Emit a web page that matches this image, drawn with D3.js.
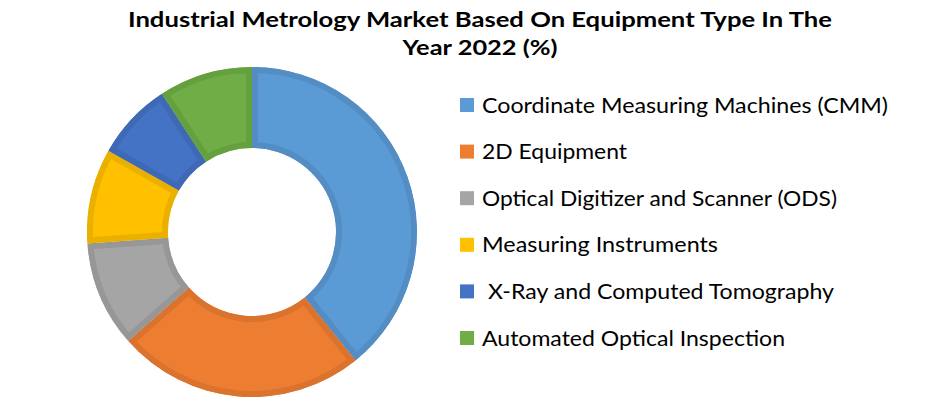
<!DOCTYPE html>
<html><head><meta charset="utf-8">
<script src="https://cdn.jsdelivr.net/npm/d3@7"></script>
<style>body{margin:0;background:#fff}svg{display:block}</style>
</head><body>
<script>
const categories = ["Coordinate Measuring Machines (CMM)","2D Equipment","Optical Digitizer and Scanner (ODS)","Measuring Instruments"," X-Ray and Computed Tomography","Automated Optical Inspection"];
const values = [39.2, 24.3, 10.4, 9.3, 7.6, 9.2];
const fills = ["#5B9BD5","#ED7D31","#A5A5A5","#FFC000","#4472C4","#70AD47"];
const strokes = ["#538DC3","#D9732E","#979797","#E9B000","#3F69B4","#65A03F"];
const titleLines = ["Industrial Metrology Market Based On Equipment Type In The","Year 2022 (%)"];

const W=933,H=411;
const svg=d3.select("body").append("svg").attr("width",W).attr("height",H);

const cx=252, cy=232, rO=165, rI=84;
const pie=d3.pie().sort(null).value(d=>d)(values);
const arc=d3.arc().innerRadius(rI).outerRadius(rO);
const defs=svg.append("defs");
defs.selectAll("clipPath").data(pie).join("clipPath")
  .attr("id",(d,i)=>"clip"+i)
  .append("path").attr("d",arc);
const g=svg.append("g").attr("transform",`translate(${cx},${cy})`);
g.selectAll("path").data(pie).join("path")
  .attr("d",arc).attr("fill",(d,i)=>fills[i])
  .attr("stroke",(d,i)=>strokes[i]).attr("stroke-width",12)
  .attr("clip-path",(d,i)=>`url(#clip${i})`);

// title
svg.selectAll("text.title").data(titleLines).join("text").attr("class","title")
  .attr("x",480).attr("y",(d,i)=>27+i*28).attr("text-anchor","middle")
  .attr("font-family","Lato, 'Open Sans', sans-serif").attr("font-weight","bold")
  .attr("font-size",20).attr("fill","#000")
  .attr("textLength",(d,i)=>i===0?704:155).attr("lengthAdjust","spacingAndGlyphs")
  .text(d=>d);

// legend
const ly=d3.scalePoint().domain(d3.range(categories.length)).range([105,338]);
const lg=svg.append("g");
lg.selectAll("rect").data(categories).join("rect")
  .attr("x",460).attr("y",(d,i)=>ly(i)-7).attr("width",14).attr("height",14)
  .attr("fill",(d,i)=>fills[i]);
const widths=[406,145,355,236,352,303];
lg.selectAll("text").data(categories).join("text")
  .attr("x",482).attr("y",(d,i)=>ly(i)+7.5)
  .attr("font-family","Lato, 'Open Sans', sans-serif").attr("font-size",21).attr("fill","#000")
  .attr("xml:space","preserve").style("white-space","pre")
  .attr("textLength",(d,i)=>widths[i]).attr("lengthAdjust","spacingAndGlyphs")
  .text(d=>d);
</script>
</body></html>
